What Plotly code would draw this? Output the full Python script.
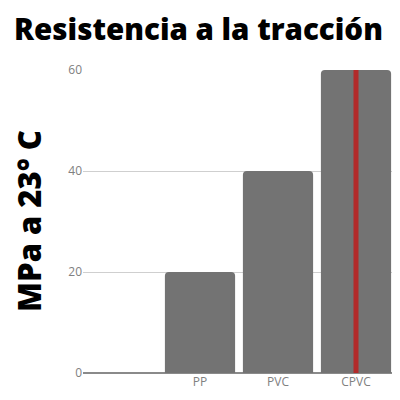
import plotly.graph_objects as go

categories = [" ", "PP", "PVC", "CPVC"]
values = [None, 20, 40, 60]
highlight_category = ["CPVC", "CPVC"]
highlight_values = [0, 60]
y_ticks = [0, 20, 40, 60]

fig = go.Figure()
fig.add_trace(go.Bar(
    x=categories, y=values,
    marker=dict(color="#737373", line=dict(width=0)),
    hoverinfo="skip",
))
fig.add_trace(go.Scatter(
    x=highlight_category, y=highlight_values,
    mode="lines", line=dict(color="#B22A2A", width=5),
    hoverinfo="skip",
))

fig.update_layout(
    width=392, height=392,
    margin=dict(l=75, r=5, t=62, b=27),
    paper_bgcolor="white", plot_bgcolor="white",
    showlegend=False,
    bargap=0.1,
    barcornerradius=4,
    font=dict(family="Open Sans", color="#808080"),
    title=dict(
        text="Resistencia a la tracción",
        font=dict(family="Open Sans", size=29.5, color="#000000", weight=800),
        x=0.486, xref="container", xanchor="center",
        y=0.945, yref="container", yanchor="middle",
    ),
    xaxis=dict(
        type="category",
        showgrid=False, showline=False, zeroline=False,
        tickfont=dict(size=12, color="#808080"),
        ticks="",
    ),
    yaxis=dict(
        range=[0, 60],
        tickvals=y_ticks,
        showgrid=True, gridcolor="#CFCFCF", gridwidth=1,
        zeroline=True, zerolinecolor="#8A8A8A", zerolinewidth=1.5,
        showline=False,
        tickfont=dict(size=12, color="#808080"),
        ticks="",
    ),
    annotations=[dict(
        text="MPa a 23° C",
        textangle=-90,
        xref="paper", yref="paper",
        x=-0.173, y=0.502,
        xanchor="center", yanchor="middle",
        showarrow=False,
        font=dict(family="Open Sans", size=31, color="#000000", weight=800),
    )],
)

fig.write_html("out.html")
